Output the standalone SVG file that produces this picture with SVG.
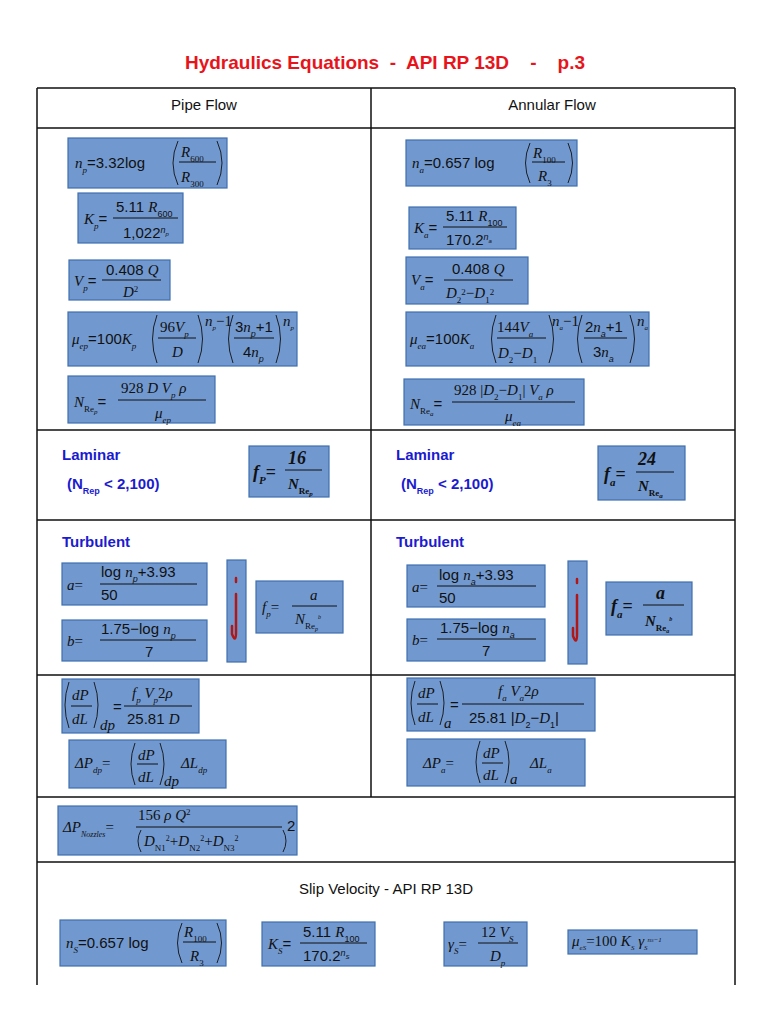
<svg xmlns="http://www.w3.org/2000/svg" width="768" height="1024" viewBox="0 0 768 1024">
<style>
.b{fill:#7299cf;stroke:#3f6fae;stroke-width:1.2}
.m{font-family:"Liberation Serif",serif;font-style:italic;font-size:15px;fill:#111}
.n{font-family:"Liberation Sans",sans-serif;font-style:normal;font-size:15px;fill:#111}
.s{font-size:9px;baseline-shift:sub}
.u{font-size:9px;baseline-shift:super}
.fl{stroke:#111;stroke-width:1}
.p{fill:none;stroke:#111;stroke-width:0.9}
.g{stroke:#111;stroke-width:1.5;fill:none}
.h{font-family:"Liberation Sans",sans-serif;font-size:15px;fill:#111}
.bl{font-family:"Liberation Sans",sans-serif;font-size:15px;font-weight:bold;fill:#1b1bd0}
.bb{font-family:"Liberation Serif",serif;font-style:italic;font-weight:bold;font-size:18px;fill:#111}
.sq{fill:none;stroke:#b01818;stroke-width:2.5;stroke-linecap:round}
</style>
<rect width="768" height="1024" fill="#fff"/>
<text x="385" y="69" text-anchor="middle" font-family="Liberation Sans,sans-serif" font-size="19" font-weight="bold" fill="#e8141b" xml:space="preserve">Hydraulics Equations  -  API RP 13D    -    p.3</text>
<g class="g">
<path d="M37,88H735M37,128H735M37,430H735M37,520H735M37,675H735M37,797H735M37,862H735"/>
<path d="M37,88V985M735,88V985M371,88V797"/>
</g>
<text x="204" y="110" text-anchor="middle" class="h">Pipe Flow</text>
<text x="552" y="110" text-anchor="middle" class="h">Annular Flow</text>

<g id="np"><rect class="b" x="68" y="138" width="159" height="50"/>
<text class="m" x="75" y="168">n<tspan class="s">p</tspan><tspan class="n">=3.32log</tspan></text>
<path class="p" d="M178,141Q168,163 178,185"/>
<text class="m" x="181" y="157">R<tspan class="s" font-style="normal">600</tspan></text><line class="fl" x1="179" y1="162" x2="216" y2="162"/>
<text class="m" x="181" y="182">R<tspan class="s" font-style="normal">300</tspan></text>
<path class="p" d="M217,141Q227,163 217,185"/></g>

<g id="kp"><rect class="b" x="78" y="193" width="105" height="50"/>
<text class="m" x="84" y="224">K<tspan class="s">p</tspan><tspan class="n">=</tspan></text>
<line class="fl" x1="113" y1="218" x2="178" y2="218"/>
<text class="n" x="116" y="212">5.11 <tspan class="m">R</tspan><tspan class="s">600</tspan></text>
<text class="n" x="123" y="238">1,022<tspan class="u" font-style="italic">n</tspan><tspan font-size="6" font-style="italic" dy="-2">p</tspan></text></g>

<g id="vp"><rect class="b" x="69" y="260" width="101" height="40"/>
<text class="m" x="74" y="286">V<tspan class="s">p</tspan><tspan class="n">=</tspan></text>
<line class="fl" x1="102" y1="280" x2="161" y2="280"/>
<text class="n" x="106" y="275">0.408 <tspan class="m">Q</tspan></text>
<text class="m" x="123" y="297">D<tspan class="u" font-style="normal">2</tspan></text></g>

<g id="mup"><rect class="b" x="68" y="312" width="229" height="54"/>
<text class="m" x="72" y="344">μ<tspan class="s">ep</tspan><tspan class="n">=100</tspan>K<tspan class="s">p</tspan></text>
<path class="p" d="M157,315Q148,339 157,363"/>
<text class="m" x="160" y="332"><tspan font-style="normal">96</tspan>V<tspan class="s">p</tspan></text>
<line class="fl" x1="158" y1="338" x2="196" y2="338"/>
<text class="m" x="172" y="357">D</text>
<path class="p" d="M198,315Q207,339 198,363"/>
<text class="m" x="205" y="326" font-size="10">n<tspan font-size="7" baseline-shift="sub">p</tspan><tspan font-style="normal">−1</tspan></text>
<path class="p" d="M233,315Q224,339 233,363"/>
<text class="n" x="235" y="332">3<tspan class="m">n</tspan><tspan class="s" font-style="italic">p</tspan>+1</text>
<line class="fl" x1="234" y1="338" x2="274" y2="338"/>
<text class="n" x="243" y="357">4<tspan class="m">n</tspan><tspan class="s" font-style="italic">p</tspan></text>
<path class="p" d="M276,315Q285,339 276,363"/>
<text class="m" x="283" y="326" font-size="10">n<tspan font-size="7" baseline-shift="sub">p</tspan></text></g>

<g id="nrep"><rect class="b" x="68" y="376" width="147" height="47"/>
<text class="m" x="74" y="407">N<tspan class="s" font-style="normal">Re</tspan><tspan font-size="7" baseline-shift="-7">p</tspan><tspan class="n">=</tspan></text>
<line class="fl" x1="118" y1="400" x2="206" y2="400"/>
<text class="m" x="121" y="393"><tspan font-style="normal">928 </tspan>D V<tspan class="s">p</tspan> ρ</text>
<text class="m" x="155" y="418">μ<tspan class="s">ep</tspan></text></g>

<g id="na"><rect class="b" x="406" y="140" width="171" height="46"/>
<text class="m" x="412" y="168">n<tspan class="s">a</tspan><tspan class="n">=0.657 log</tspan></text>
<path class="p" d="M530,143Q521,163 530,183"/>
<text class="m" x="533" y="158">R<tspan class="s" font-style="normal">100</tspan></text>
<line class="fl" x1="532" y1="162" x2="565" y2="162"/>
<text class="m" x="538" y="181">R<tspan class="s" font-style="normal">3</tspan></text>
<path class="p" d="M568,143Q577,163 568,183"/></g>

<g id="ka"><rect class="b" x="409" y="207" width="107" height="42"/>
<text class="m" x="414" y="233">K<tspan class="s">a</tspan><tspan class="n">=</tspan></text>
<line class="fl" x1="443" y1="227" x2="507" y2="227"/>
<text class="n" x="446" y="221">5.11 <tspan class="m">R</tspan><tspan class="s">100</tspan></text>
<text class="n" x="446" y="245">170.2<tspan class="u" font-style="italic">n</tspan><tspan font-size="6" font-style="italic" dy="-2">a</tspan></text></g>

<g id="va"><rect class="b" x="406" y="257" width="122" height="47"/>
<text class="m" x="411" y="285">V<tspan class="s">a</tspan><tspan class="n">=</tspan></text>
<line class="fl" x1="444" y1="280" x2="513" y2="280"/>
<text class="n" x="452" y="274">0.408 <tspan class="m">Q</tspan></text>
<text class="m" x="446" y="298">D<tspan class="s" font-style="normal">2</tspan><tspan font-style="normal" font-size="9" dy="-3">2</tspan><tspan font-style="normal" dy="3">−</tspan>D<tspan class="s" font-style="normal">1</tspan><tspan font-style="normal" font-size="9" dy="-3">2</tspan></text></g>

<g id="mua"><rect class="b" x="406" y="312" width="243" height="54"/>
<text class="m" x="410" y="344">μ<tspan class="s">ea</tspan><tspan class="n">=100</tspan>K<tspan class="s">a</tspan></text>
<path class="p" d="M496,315Q487,339 496,363"/>
<text class="m" x="497" y="332"><tspan font-style="normal">144</tspan>V<tspan class="s">a</tspan></text>
<line class="fl" x1="497" y1="338" x2="546" y2="338"/>
<text class="m" x="498" y="358">D<tspan class="s" font-style="normal">2</tspan><tspan font-style="normal">−</tspan>D<tspan class="s" font-style="normal">1</tspan></text>
<path class="p" d="M549,315Q558,339 549,363"/>
<text class="m" x="552" y="326" font-size="10">n<tspan font-size="7" baseline-shift="sub">a</tspan><tspan font-style="normal">−1</tspan></text>
<path class="p" d="M582,315Q573,339 582,363"/>
<text class="n" x="585" y="332">2<tspan class="m">n</tspan><tspan class="s" font-style="italic">a</tspan>+1</text>
<line class="fl" x1="584" y1="338" x2="627" y2="338"/>
<text class="n" x="593" y="357">3<tspan class="m">n</tspan><tspan class="s" font-style="italic">a</tspan></text>
<path class="p" d="M630,315Q639,339 630,363"/>
<text class="m" x="637" y="326" font-size="10">n<tspan font-size="7" baseline-shift="sub">a</tspan></text></g>

<g id="nrea"><rect class="b" x="404" y="379" width="180" height="46"/>
<text class="m" x="410" y="409">N<tspan class="s" font-style="normal">Re</tspan><tspan font-size="7" baseline-shift="-7">a</tspan><tspan class="n">=</tspan></text>
<line class="fl" x1="452" y1="402" x2="575" y2="402"/>
<text class="m" x="454" y="395"><tspan font-style="normal">928 |</tspan>D<tspan class="s" font-style="normal">2</tspan><tspan font-style="normal">−</tspan>D<tspan class="s" font-style="normal">1</tspan><tspan font-style="normal">| </tspan>V<tspan class="s">a</tspan> ρ</text>
<text class="m" x="505" y="421">μ<tspan class="s">ea</tspan></text></g>

<text class="bl" x="62" y="460">Laminar</text>
<text class="bl" x="67" y="489">(N<tspan font-size="9" baseline-shift="sub">Rep</tspan> &lt; 2,100)</text>
<g id="fpl"><rect class="b" x="249" y="446" width="80" height="51"/>
<text class="bb" x="253" y="478">f<tspan font-size="11" baseline-shift="sub">P</tspan><tspan font-style="normal">=</tspan></text>
<line class="fl" x1="285" y1="470" x2="322" y2="470" stroke-width="1.5"/>
<text class="bb" x="288" y="464" font-style="normal">16</text>
<text class="m" x="288" y="489" font-weight="bold">N<tspan class="s" font-style="normal">Re</tspan><tspan font-size="7" baseline-shift="-7">p</tspan></text></g>
<text class="bl" x="396" y="460">Laminar</text>
<text class="bl" x="401" y="489">(N<tspan font-size="9" baseline-shift="sub">Rep</tspan> &lt; 2,100)</text>
<g id="fal"><rect class="b" x="598" y="446" width="87" height="54"/>
<text class="bb" x="604" y="480">f<tspan font-size="11" baseline-shift="sub">a</tspan><tspan font-style="normal">=</tspan></text>
<line class="fl" x1="636" y1="472" x2="674" y2="472" stroke-width="1.5"/>
<text class="bb" x="638" y="465" font-style="normal">24</text>
<text class="m" x="638" y="491" font-weight="bold">N<tspan class="s" font-style="normal">Re</tspan><tspan font-size="7" baseline-shift="-7">a</tspan></text></g>

<text class="bl" x="62" y="547">Turbulent</text>
<text class="bl" x="396" y="547">Turbulent</text>
<g id="ap"><rect class="b" x="62" y="563" width="145" height="42"/>
<text class="m" x="67" y="590">a<tspan font-style="normal">=</tspan></text>
<line class="fl" x1="100" y1="584" x2="197" y2="584"/>
<text class="n" x="101" y="577">log <tspan class="m">n</tspan><tspan class="s" font-style="italic">p</tspan>+3.93</text>
<text class="n" x="101" y="600">50</text></g>
<g id="bp"><rect class="b" x="62" y="620" width="145" height="41"/>
<text class="m" x="67" y="646">b<tspan font-style="normal">=</tspan></text>
<line class="fl" x1="100" y1="640" x2="196" y2="640"/>
<text class="n" x="101" y="634">1.75−log <tspan class="m">n</tspan><tspan class="s" font-style="italic">p</tspan></text>
<text class="n" x="145" y="657">7</text></g>
<g id="sqp"><rect class="b" x="227" y="560" width="19" height="102"/>
<path class="sq" d="M236,578V582M236,594V632Q236,644 232,634V626"/></g>
<g id="fpt"><rect class="b" x="256" y="581" width="87" height="52"/>
<text class="m" x="262" y="612">f<tspan class="s">p</tspan><tspan font-style="normal">=</tspan></text>
<line class="fl" x1="292" y1="606" x2="337" y2="606"/>
<text class="m" x="310" y="600">a</text>
<text class="m" x="295" y="624">N<tspan class="s" font-style="normal">Re</tspan><tspan font-size="6" baseline-shift="-7">p</tspan><tspan font-size="6" baseline-shift="5">b</tspan></text></g>

<g id="aa"><rect class="b" x="407" y="565" width="138" height="42"/>
<text class="m" x="412" y="592">a<tspan font-style="normal">=</tspan></text>
<line class="fl" x1="437" y1="586" x2="536" y2="586"/>
<text class="n" x="439" y="580">log <tspan class="m">n</tspan><tspan class="s" font-style="italic">a</tspan>+3.93</text>
<text class="n" x="439" y="603">50</text></g>
<g id="ba"><rect class="b" x="407" y="619" width="138" height="42"/>
<text class="m" x="412" y="645">b<tspan font-style="normal">=</tspan></text>
<line class="fl" x1="437" y1="639" x2="536" y2="639"/>
<text class="n" x="440" y="633">1.75−log <tspan class="m">n</tspan><tspan class="s" font-style="italic">a</tspan></text>
<text class="n" x="482" y="656">7</text></g>
<g id="sqa"><rect class="b" x="568" y="561" width="19" height="103"/>
<path class="sq" d="M577,579V583M577,595V634Q577,646 573,636V628"/></g>
<g id="fat"><rect class="b" x="606" y="582" width="86" height="53"/>
<text class="bb" x="611" y="612">f<tspan font-size="11" baseline-shift="sub">a</tspan><tspan font-style="normal">=</tspan></text>
<line class="fl" x1="643" y1="605" x2="684" y2="605" stroke-width="1.5"/>
<text class="bb" x="656" y="599">a</text>
<text class="m" x="645" y="626" font-weight="bold">N<tspan class="s" font-style="normal">Re</tspan><tspan font-size="6" baseline-shift="-7">a</tspan><tspan font-size="6" baseline-shift="5">b</tspan></text></g>

<g id="dpl"><rect class="b" x="62" y="679" width="137" height="54"/>
<path class="p" d="M69,682Q61,705 69,728"/>
<text class="m" x="72" y="700">dP</text><line class="fl" x1="71" y1="706" x2="92" y2="706"/>
<text class="m" x="72" y="724">dL</text>
<path class="p" d="M94,682Q102,705 94,728"/>
<text class="m" x="100" y="730" font-size="10">dp</text>
<text class="n" x="113" y="712">=</text>
<line class="fl" x1="124" y1="706" x2="192" y2="706"/>
<text class="m" x="132" y="698">f<tspan class="s">p</tspan> V<tspan class="s">p</tspan><tspan font-style="normal">2</tspan>ρ</text>
<text class="n" x="127" y="724">25.81 <tspan class="m">D</tspan></text></g>
<g id="dpdp"><rect class="b" x="69" y="740" width="157" height="48"/>
<text class="m" x="75" y="768">ΔP<tspan class="s">dp</tspan><tspan font-style="normal">=</tspan></text>
<path class="p" d="M135,743Q127,764 135,785"/>
<text class="m" x="138" y="760">dP</text><line class="fl" x1="137" y1="764" x2="158" y2="764"/>
<text class="m" x="138" y="782">dL</text>
<path class="p" d="M160,743Q168,764 160,785"/>
<text class="m" x="164" y="786" font-size="10">dp</text>
<text class="m" x="181" y="768">ΔL<tspan class="s">dp</tspan></text></g>

<g id="dpa"><rect class="b" x="407" y="678" width="188" height="53"/>
<path class="p" d="M415,681Q407,703 415,725"/>
<text class="m" x="418" y="698">dP</text><line class="fl" x1="417" y1="704" x2="438" y2="704"/>
<text class="m" x="418" y="722">dL</text>
<path class="p" d="M440,681Q448,703 440,725"/>
<text class="m" x="444" y="728" font-size="10">a</text>
<text class="n" x="450" y="710">=</text>
<line class="fl" x1="462" y1="704" x2="584" y2="704"/>
<text class="m" x="498" y="696">f<tspan class="s">a</tspan> V<tspan class="s">a</tspan><tspan font-style="normal">2</tspan>ρ</text>
<text class="n" x="469" y="723">25.81 |<tspan class="m">D</tspan><tspan class="s">2</tspan>−<tspan class="m">D</tspan><tspan class="s">1</tspan>|</text></g>
<g id="dpann"><rect class="b" x="407" y="739" width="178" height="47"/>
<text class="m" x="423" y="768">ΔP<tspan class="s">a</tspan><tspan font-style="normal">=</tspan></text>
<path class="p" d="M480,741Q472,762 480,783"/>
<text class="m" x="483" y="758">dP</text><line class="fl" x1="482" y1="763" x2="503" y2="763"/>
<text class="m" x="483" y="780">dL</text>
<path class="p" d="M505,741Q513,762 505,783"/>
<text class="m" x="510" y="784" font-size="10">a</text>
<text class="m" x="530" y="768">ΔL<tspan class="s">a</tspan></text></g>

<g id="noz"><rect class="b" x="58" y="806" width="239" height="49"/>
<text class="m" x="63" y="832">ΔP<tspan font-size="8" baseline-shift="sub">Nozzles</tspan><tspan font-style="normal">=</tspan></text>
<line class="fl" x1="136" y1="827" x2="282" y2="827"/>
<text class="m" x="138" y="820"><tspan font-style="normal">156 </tspan>ρ Q<tspan class="u" font-style="normal">2</tspan></text>
<path class="p" d="M141,830Q135,841 141,852"/>
<text class="m" x="144" y="846">D<tspan class="s" font-style="normal">N1</tspan><tspan font-size="8" dy="-5" font-style="normal">2</tspan><tspan font-style="normal" dy="5">+</tspan>D<tspan class="s" font-style="normal">N2</tspan><tspan font-size="8" dy="-5" font-style="normal">2</tspan><tspan font-style="normal" dy="5">+</tspan>D<tspan class="s" font-style="normal">N3</tspan><tspan font-size="8" dy="-5" font-style="normal">2</tspan></text>
<path class="p" d="M283,830Q289,841 283,852"/>
<text class="n" x="287" y="831" font-size="9">2</text></g>

<text x="386" y="894" text-anchor="middle" class="h">Slip Velocity  -  API RP 13D</text>
<g id="ns"><rect class="b" x="60" y="920" width="166" height="46"/>
<text class="m" x="66" y="948">n<tspan class="s">S</tspan><tspan class="n">=0.657 log</tspan></text>
<path class="p" d="M182,923Q173,943 182,963"/>
<text class="m" x="184" y="937">R<tspan class="s" font-style="normal">100</tspan></text>
<line class="fl" x1="183" y1="942" x2="216" y2="942"/>
<text class="m" x="190" y="961">R<tspan class="s" font-style="normal">3</tspan></text>
<path class="p" d="M217,923Q226,943 217,963"/></g>
<g id="ks"><rect class="b" x="262" y="922" width="113" height="44"/>
<text class="m" x="268" y="949">K<tspan class="s">S</tspan><tspan class="n">=</tspan></text>
<line class="fl" x1="300" y1="943" x2="367" y2="943"/>
<text class="n" x="303" y="937">5.11 <tspan class="m">R</tspan><tspan class="s">100</tspan></text>
<text class="n" x="303" y="961">170.2<tspan class="u" font-style="italic">n</tspan><tspan font-size="6" font-style="italic" dy="-2">S</tspan></text></g>
<g id="gs"><rect class="b" x="444" y="922" width="83" height="44"/>
<text class="m" x="448" y="949">γ<tspan class="s">S</tspan><tspan font-style="normal">=</tspan></text>
<line class="fl" x1="478" y1="943" x2="518" y2="943"/>
<text class="m" x="481" y="937"><tspan font-style="normal">12 </tspan>V<tspan class="s">S</tspan></text>
<text class="m" x="490" y="961">D<tspan class="s">p</tspan></text></g>
<g id="mus"><rect class="b" x="568" y="930" width="129" height="24"/>
<text class="m" x="572" y="946" font-size="12">μ<tspan font-size="7" baseline-shift="sub">eS</tspan><tspan font-style="normal">=100 </tspan>K<tspan font-size="7" baseline-shift="sub">S</tspan> γ<tspan font-size="7" baseline-shift="sub">S</tspan><tspan font-size="7" baseline-shift="super">n<tspan font-size="5">S</tspan>−1</tspan></text></g>
</svg>
